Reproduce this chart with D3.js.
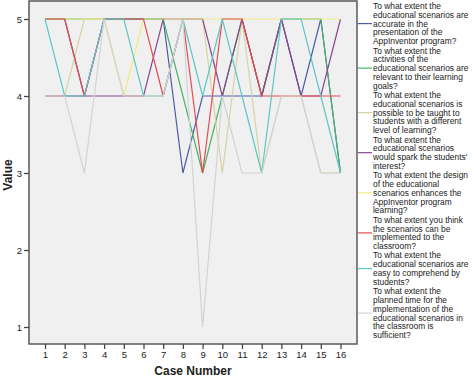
<!DOCTYPE html>
<html><head><meta charset="utf-8">
<script src="https://cdn.jsdelivr.net/npm/d3@7"></script>
<style>body{margin:0;background:#fff}svg{display:block;font-family:Arial,"Liberation Sans",sans-serif}</style>
</head><body><svg id="c" width="474" height="379"></svg>
<script>
const cases = [1,2,3,4,5,6,7,8,9,10,11,12,13,14,15,16];
const yTicks = [1,2,3,4,5];
const seriesNames = [
  ["To what extent the","educational scenarios are","accurate in the","presentation of the","AppInventor program?"],
  ["To what extent the","activities of the","educational scenarios are","relevant to their learning","goals?"],
  ["To what extent the","educational scenarios is","possible to be taught to","students with a different","level of learning?"],
  ["To what extent the","educational scenarios","would spark the students'","interest?"],
  ["To what extent the design","of the educational","scenarios enhances the","AppInventor program","learning?"],
  ["To what extent you think","the scenarios can be","implemented to the","classroom?"],
  ["To what extent the","educational scenarios are","easy to comprehend by","students?"],
  ["To what extent the","planned time for the","implementation of the","educational scenarios in","the classroom is","sufficient?"]
];
const accurate    = [5,5,4,5,5,5,5,3,4,4,4,4,5,4,5,3];
const relevant    = [5,5,5,5,5,5,5,4,3,4,5,4,5,5,5,3];
const diffLevel   = [4,4,5,5,4,4,4,5,5,3,5,3,4,4,3,3];
const spark       = [4,4,4,4,4,4,5,5,5,4,5,4,5,4,4,5];
const design      = [5,5,5,5,4,5,5,5,5,5,5,5,5,5,5,5];
const implemented = [5,5,4,5,5,5,4,5,3,5,5,4,4,4,4,4];
const comprehend  = [5,4,4,5,5,4,4,5,4,5,4,3,5,5,4,3];
const plannedTime = [4,4,3,5,4,4,4,5,1,4,3,3,4,4,3,3];
const seriesValues = [accurate,relevant,diffLevel,spark,design,implemented,comprehend,plannedTime];
const colors = ["#4d5ca8","#48b46a","#d8d3a2","#87468a","#f0ec84","#e54a50","#5ec7c6","#d3d3d3"];

const svg = d3.select("#c");
const L=29,R=357,T=1,B=344;
const x = d3.scaleLinear().domain([1,16]).range([45,340.5]);
const y = d3.scaleLinear().domain([1,5]).range([327,19]);

svg.append("rect").attr("x",L).attr("y",T).attr("width",R-L).attr("height",B-T).attr("fill","#f0f0f0");

const line = d3.line().x((d,i)=>x(cases[i])).y(d=>y(d));
seriesValues.forEach((vals,k)=>{
  svg.append("path").datum(vals).attr("d",line).attr("fill","none")
    .attr("stroke",colors[k]).attr("stroke-width",1.2);
});

svg.append("rect").attr("x",L).attr("y",T).attr("width",R-L).attr("height",B-T)
  .attr("fill","none").attr("stroke","#5a5a5a").attr("stroke-width",1.5);

const ya = svg.append("g").attr("transform",`translate(${L},0)`)
  .call(d3.axisLeft(y).tickValues(yTicks).tickFormat(d3.format("d")).tickSize(5).tickPadding(2));
const xa = svg.append("g").attr("transform",`translate(0,${B})`)
  .call(d3.axisBottom(x).tickValues(cases).tickFormat(d3.format("d")).tickSize(5).tickPadding(2));
[ya,xa].forEach(g=>{
  g.select(".domain").remove();
  g.selectAll("line").attr("stroke","#444").attr("stroke-width",1.3);
  g.selectAll("text").attr("fill","#222").style("font-size","9.5px");
});

svg.append("text").attr("transform","translate(12,175) rotate(-90)").attr("text-anchor","middle")
  .style("font-weight","bold").style("font-size","12px").attr("fill","#222").text("Value");
svg.append("text").attr("x",193).attr("y",375).attr("text-anchor","middle")
  .style("font-weight","bold").style("font-size","12px").attr("fill","#222").text("Case Number");

// legend
const lh = 8.8, gap = 0.5;
let yy = 9;
const lg = svg.append("g");
seriesNames.forEach((lines,k)=>{
  const start = yy;
  lines.forEach((t,j)=>{
    lg.append("text").attr("x",373).attr("y",yy).style("font-size","8.4px").attr("fill","#222").text(t);
    if (j<lines.length-1) yy += lh;
  });
  const mid = (start + yy)/2 - 3;
  lg.append("line").attr("x1",358).attr("x2",372).attr("y1",mid).attr("y2",mid)
    .attr("stroke",colors[k]).attr("stroke-width",1.2);
  yy += lh + gap;
});
</script></body></html>
